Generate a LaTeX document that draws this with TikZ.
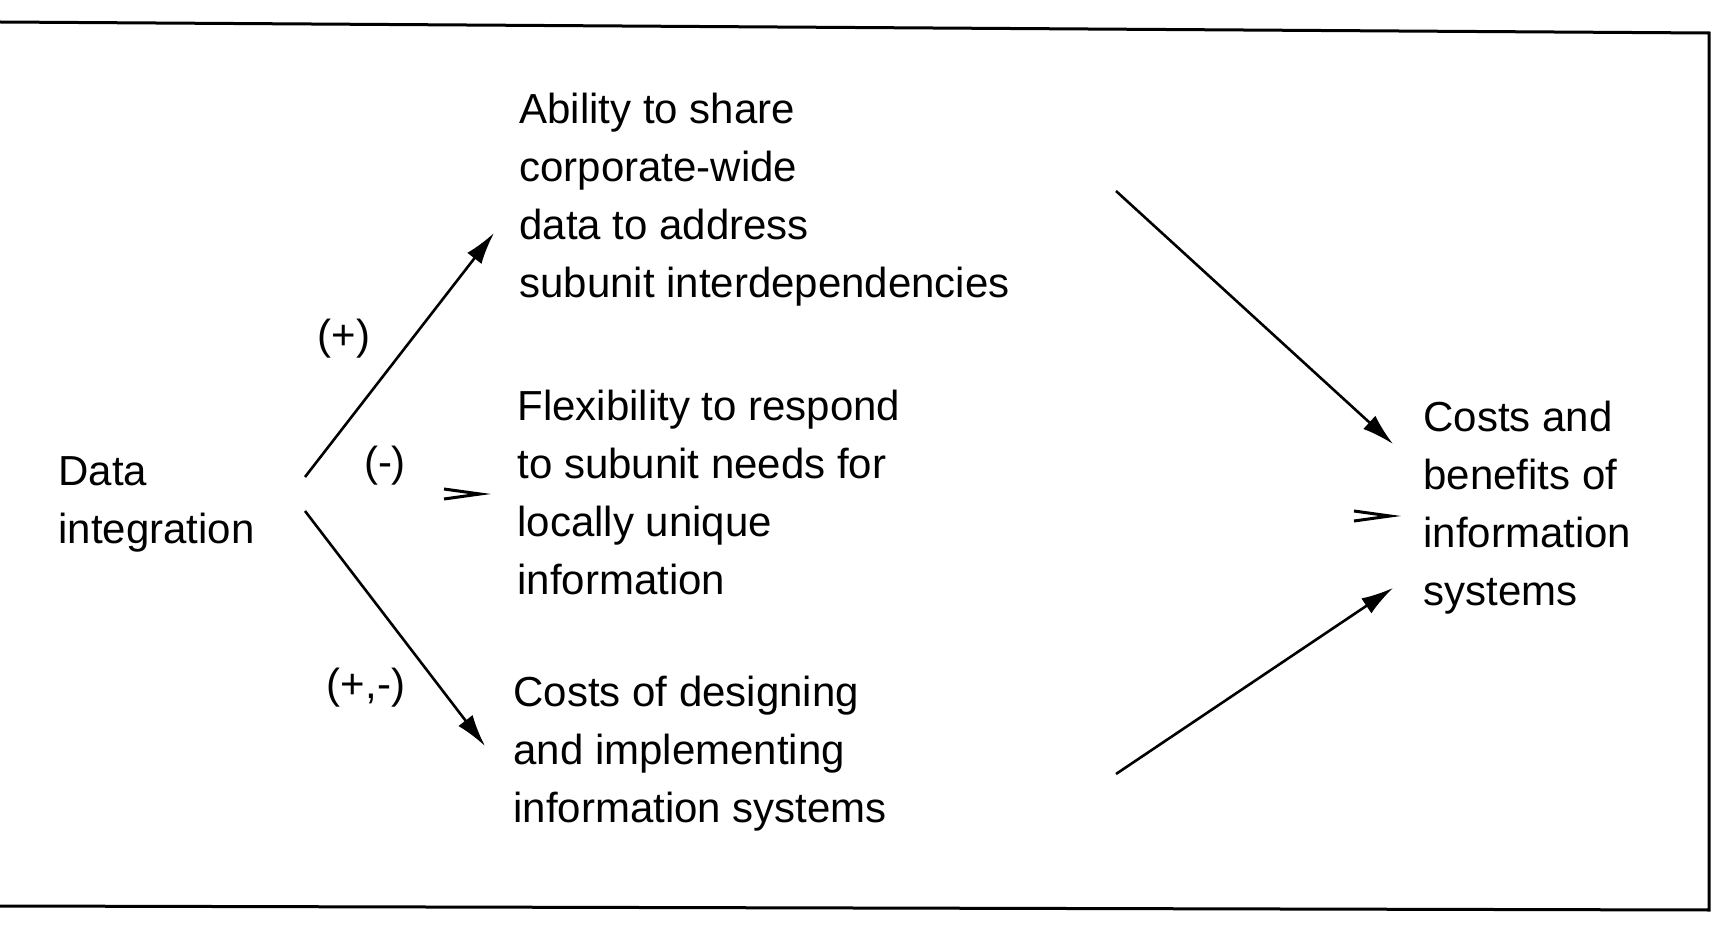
\documentclass[tikz,border=0pt]{standalone}
\usepackage{fontspec}
\setmainfont{Liberation Sans}
\usetikzlibrary{arrows.meta}
\begin{document}
\begin{tikzpicture}[x=0.5pt,y=-0.5pt,
  txt/.style={anchor=west,align=left,inner sep=0pt,font=\fontsize{21}{29}\selectfont},
  lab/.style={inner sep=0pt,font=\fontsize{21}{29}\selectfont},
  arr/.style={line width=1.3pt,-{Latex[length=16pt,width=9pt]}}]
\useasboundingbox (0,0) rectangle (1731,941);
\draw[line width=1.5pt] (0,22) -- (1709,33) -- (1709,910) -- (0,906);
\node[txt] (di) at (58,504) {Data\\integration};
\node[txt] (ab) at (519,200) {Ability to share\\corporate-wide\\data to address\\subunit interdependencies};
\node[txt] (fl) at (517,492) {Flexibility to respond\\to subunit needs for\\locally unique\\information};
\node[txt] (co) at (513,754) {Costs of designing\\and implementing\\information systems};
\node[txt] (cb) at (1423,508) {Costs and\\benefits of\\information\\systems};
\node[lab] (l1) at (344,339) {(+)};
\node[lab] (l2) at (385,466) {(-)};
\node[lab] (l3) at (366,688) {(+,-)};
\coordinate (a1) at (305,477); \coordinate (a2) at (494,233);
\coordinate (b1) at (305,511); \coordinate (b2) at (485,746);
\coordinate (c1) at (1116,191); \coordinate (c2) at (1393,444);
\coordinate (d1) at (1116,774); \coordinate (d2) at (1393,588);
\draw[arr] (a1) -- (a2);
\draw[arr] (b1) -- (b2);
\draw[arr] (c1) -- (c2);
\draw[arr] (d1) -- (d2);
\coordinate (m1) at (480,494); \coordinate (m2) at (1390,516);
\draw[line width=1.5pt] ([xshift=-18pt,yshift=-2.5pt]m1) -- (m1) -- ([xshift=-18pt,yshift=2.5pt]m1);
\draw[line width=1.5pt] ([xshift=-18pt,yshift=-2.5pt]m2) -- (m2) -- ([xshift=-18pt,yshift=2.5pt]m2);
\end{tikzpicture}
\end{document}
